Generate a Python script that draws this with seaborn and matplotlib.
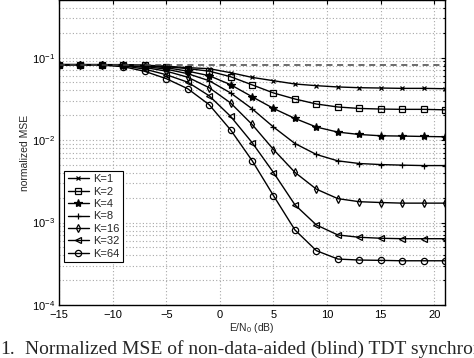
import numpy as np
import pandas as pd
import matplotlib
matplotlib.use("Agg")
import matplotlib.pyplot as plt
import seaborn as sns
from matplotlib.ticker import LogLocator, NullFormatter

snr_db = [-15, -13, -11, -9, -7, -5, -3, -1, 1, 3, 5, 7, 9, 11, 13, 15, 17, 19, 21]
labels = ["K=1", "K=2", "K=4", "K=8", "K=16", "K=32", "K=64"]
mse_k1 = [0.0822, 0.0822, 0.0822, 0.0822, 0.0811, 0.0788, 0.0756, 0.0735, 0.0657, 0.0576,
          0.0525, 0.0479, 0.0457, 0.0441, 0.0432, 0.0428, 0.0424, 0.0424, 0.0420]
mse_k2 = [0.0822, 0.0822, 0.0822, 0.0822, 0.0804, 0.0777, 0.0735, 0.0686, 0.0587, 0.0468,
          0.0373, 0.0315, 0.0274, 0.0252, 0.0242, 0.0238, 0.0236, 0.0236, 0.0233]
mse_k4 = [0.0822, 0.0822, 0.0822, 0.0818, 0.0797, 0.0756, 0.0686, 0.0604, 0.0470, 0.0336,
          0.0242, 0.0183, 0.0144, 0.0125, 0.0117, 0.01128, 0.01119, 0.01107, 0.01097]
mse_k8 = [0.0822, 0.0822, 0.0822, 0.0815, 0.0781, 0.0725, 0.0639, 0.0525, 0.0373, 0.0240,
          0.0144, 0.00909, 0.00669, 0.00560, 0.00520, 0.00505, 0.00497, 0.00491, 0.00491]
mse_k16 = [0.0822, 0.0822, 0.0822, 0.0805, 0.0760, 0.0686, 0.0579, 0.0432, 0.0282, 0.0155,
           0.00769, 0.00406, 0.00254, 0.00195, 0.00179, 0.00175, 0.00172, 0.00172, 0.00172]
mse_k32 = [0.0822, 0.0822, 0.0818, 0.0797, 0.0725, 0.0621, 0.0504, 0.0345, 0.0194, 0.00935,
           0.00404, 0.00164, 0.000935, 0.000707, 0.000663, 0.000645, 0.000637, 0.000637, 0.000637]
mse_k64 = [0.0822, 0.0822, 0.0811, 0.0777, 0.0682, 0.0556, 0.0420, 0.0269, 0.0133, 0.00565,
           0.00212, 0.000813, 0.000456, 0.000361, 0.000351, 0.000348, 0.000344, 0.000344, 0.000344]
bound_x = [-15, 21]
bound_y = [0.0822, 0.0822]
x_ticks = [-15, -10, -5, 0, 5, 10, 15, 20]
x_tick_labels = ["\u221215", "\u221210", "\u22125", "0", "5", "10", "15", "20"]
caption_num = "1."
caption = "Normalized MSE of non-data-aided (blind) TDT synchronization"

series = [mse_k1, mse_k2, mse_k4, mse_k8, mse_k16, mse_k32, mse_k64]
markers = ["x", "s", "*", "+", "d", "<", "o"]
filled = [True, False, True, True, False, False, False]
msizes = [3.5, 4, 6, 5, 4, 4.5, 4.5]

sns.set_theme(style="white")
plt.rcParams["font.family"] = ["Liberation Sans", "DejaVu Sans"]
plt.rcParams["mathtext.fontset"] = "custom"
plt.rcParams["mathtext.rm"] = "Liberation Sans"
plt.rcParams["mathtext.it"] = "Liberation Sans:italic"

fig = plt.figure(figsize=(4.74, 3.58), dpi=100)
ax = fig.add_axes([0.1245, 0.148, 0.8145, 0.852])

for lab, ys, m, f, ms in zip(labels, series, markers, filled, msizes):
    df = pd.DataFrame({"snr": snr_db, "mse": ys})
    sns.lineplot(data=df, x="snr", y="mse", ax=ax, color="black", lw=1.0,
                 marker=m, markersize=ms, mfc=("black" if f else "none"),
                 mec="black", mew=0.9, label=lab)

sns.lineplot(x=bound_x, y=bound_y, ax=ax, color="#444444", lw=1.1,
             linestyle=(0, (4, 3)), legend=False)

ax.set_yscale("log")
ax.set_xlim(-15, 21)
ax.set_ylim(1e-4, 0.5)
ax.set_xticks(x_ticks)
ax.set_xticklabels(x_tick_labels)
ax.yaxis.set_major_locator(LogLocator(base=10, numticks=10))
ax.yaxis.set_minor_locator(LogLocator(base=10, subs=np.arange(2, 10), numticks=20))
ax.yaxis.set_minor_formatter(NullFormatter())
ax.set_yticks([1e-4, 1e-3, 1e-2, 1e-1])
ax.set_yticklabels([r"$10^{-4}$", r"$10^{-3}$", r"$10^{-2}$", r"$10^{-1}$"])

ax.grid(True, which="major", axis="x", color="#a8a8a8", linestyle=(0, (1, 2)), lw=0.8)
ax.grid(True, which="both", axis="y", color="#a8a8a8", linestyle=(0, (1, 2)), lw=0.8)

ax.tick_params(axis="both", which="both", direction="in", top=True, right=True,
               labelsize=8, colors="black", length=3, width=0.8)
ax.tick_params(axis="x", pad=3.5)
ax.tick_params(axis="y", pad=3)
ax.tick_params(axis="y", which="minor", length=1.5)
for s in ax.spines.values():
    s.set_color("black")
    s.set_linewidth(1.0)

ax.set_xlabel(r"E/N$_0$ (dB)", fontsize=7.5, labelpad=0.5)
ax.set_ylabel("normalized MSE", fontsize=7.5, labelpad=1)

leg = ax.legend(loc="upper left", bbox_to_anchor=(0.014, 0.44), fontsize=8,
                frameon=True, fancybox=False, edgecolor="black", framealpha=1,
                handlelength=1.9, handletextpad=0.4, labelspacing=0.22,
                borderpad=0.3, borderaxespad=0)
leg.get_frame().set_linewidth(0.8)

serif = ["Liberation Serif", "DejaVu Serif"]
fig.text(0.0, 0.012, caption_num, fontsize=14, family=serif,
         va="baseline", ha="left")
fig.text(0.053, 0.012, caption, fontsize=14, family=serif,
         va="baseline", ha="left")

fig.savefig("out.png", dpi=100)
